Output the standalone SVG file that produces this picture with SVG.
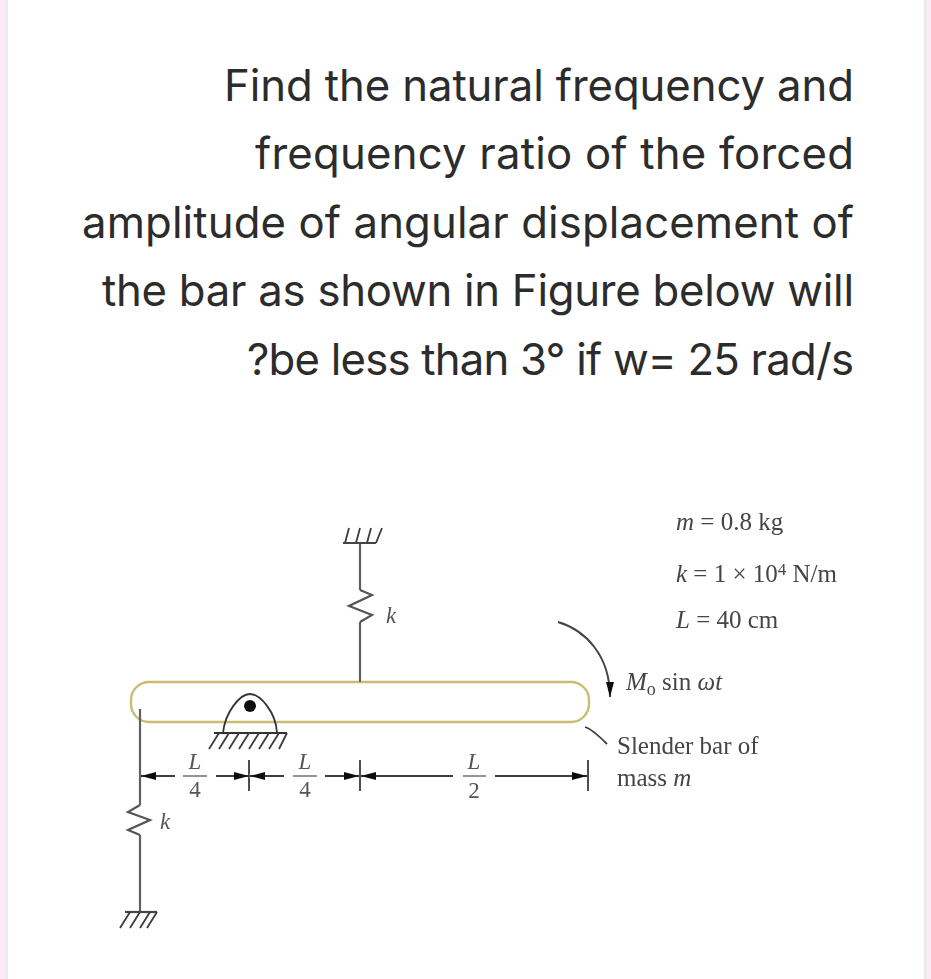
<svg xmlns="http://www.w3.org/2000/svg" width="931" height="979" viewBox="0 0 931 979">
<style>
.h{font-family:"Inter","Liberation Sans",sans-serif;font-size:43.7px;fill:#2c2c2c;text-anchor:end}
.t{font-family:"Liberation Serif",serif;font-size:25px;fill:#444}
.i{font-style:italic}
.l{fill:none;stroke:#3c3c3c;stroke-width:1.8}
.g{fill:none;stroke:#5e5e5e;stroke-width:2.2}
.c{font-family:"Liberation Serif",serif;font-size:23px;fill:#555;text-anchor:middle}
.f{stroke:#888;stroke-width:1.8}
</style>
<defs>
<marker id="a" markerWidth="16" markerHeight="10" refX="15" refY="5" orient="auto-start-reverse" markerUnits="userSpaceOnUse"><path d="M0 1 L15 5 L0 9Z" fill="#111"/></marker>
<filter id="s" x="-2%" y="-2%" width="104%" height="104%"><feGaussianBlur stdDeviation="0.45"/></filter>
</defs>
<rect width="931" height="979" fill="#fff"/>
<rect x="0" width="5" height="979" fill="#fbeaf3"/>
<rect x="5" width="3" height="979" fill="#eeeaec"/>
<rect x="924" width="3" height="979" fill="#eeeaec"/>
<rect x="927" width="4" height="979" fill="#f9edf3"/>
<g id="question">
<text class="h" x="854" y="101" textLength="630">Find the natural frequency and</text>
<text class="h" x="854" y="169" textLength="599">frequency ratio of the forced</text>
<text class="h" x="854" y="238" textLength="772">amplitude of angular displacement of</text>
<text class="h" x="854" y="306" textLength="752">the bar as shown in Figure below will</text>
<text class="h" x="854" y="375" textLength="607">?be less than 3° if w= 25 rad/s</text>
</g>
<g filter="url(#s)">
<g id="bar"><rect x="131" y="682" width="458" height="40" rx="18" fill="#fff" stroke="#c9bd72" stroke-width="2.4"/></g>
<g id="connectors">
<path class="g" d="M140 709V805"/>
<path class="g" d="M140 835V912"/>
<path class="g" d="M360 544V590"/>
<path class="g" d="M360 622V682"/>
<path class="l" marker-start="url(#a)" d="M141 776H175"/>
<path class="l" marker-end="url(#a)" d="M216 776H249"/>
<path class="l" marker-start="url(#a)" d="M250 776H284"/>
<path class="l" marker-end="url(#a)" d="M325 776H359"/>
<path class="l" marker-start="url(#a)" d="M361 776H453"/>
<path class="l" marker-end="url(#a)" d="M495 776H587"/>
<path class="l" d="M249 760V791M360 760V791M588 760V791"/>
<path d="M558 622C585 630 610 655 610 697" fill="none" stroke="#444" stroke-width="2" marker-end="url(#a)"/>
<path class="l" d="M585 727C592 729 600 737 607 744"/>
</g>
<g id="pivot">
<path d="M223 733C225 712 240 694 250 694C260 694 276 712 277 733" fill="none" stroke="#333" stroke-width="1.8"/>
<circle cx="250" cy="706" r="6" fill="#111"/>
<path d="M214 733H287" stroke="#333" stroke-width="2.2"/>
<path class="l" d="M219 733L209 749M229 733L219 749M239 733L229 749M249 733L239 749M259 733L249 749M269 733L259 749M279 733L269 749M287 733L279 749"/>
</g>
<g id="spring-left">
<path d="M140 805L128 812L150 820L128 830L140 835" fill="none" stroke="#555" stroke-width="2.2"/>
<text class="c i" x="165" y="829" font-size="24">k</text>
<path d="M125 912H157" stroke="#444" stroke-width="2.2"/>
<path class="l" d="M130 912L120 928M140 912L130 928M150 912L140 928M157 912L147 928"/>
</g>
<g id="spring-top">
<path d="M360 590L372 595L349 606L372 615L360 622" fill="none" stroke="#555" stroke-width="2.2"/>
<text class="c i" x="391" y="623">k</text>
<path d="M343 543H376" stroke="#444" stroke-width="2.2"/>
<path class="l" d="M345 543L349 528M356 543L360 528M367 543L371 528M376 543L382 528"/>
</g>
<g id="dim-labels">
<text class="c i" x="195" y="769">L</text><path class="f" d="M183 776H207"/><text class="c" x="195" y="797">4</text>
<text class="c i" x="305" y="769">L</text><path class="f" d="M293 776H317"/><text class="c" x="305" y="797">4</text>
<text class="c i" x="474" y="769">L</text><path class="f" d="M463 776H486"/><text class="c" x="474" y="798">2</text>
</g>
<g id="labels">
<text class="t" x="676" y="530"><tspan class="i">m</tspan> = 0.8 kg</text>
<text class="t" x="676" y="582"><tspan class="i">k</tspan> = 1 × 10<tspan font-size="17" dy="-7">4</tspan><tspan dy="7"> N/m</tspan></text>
<text class="t" x="676" y="628"><tspan class="i">L</tspan> = 40 cm</text>
<text class="t" x="626" y="690"><tspan class="i">M</tspan><tspan font-size="18" dy="5">o</tspan><tspan dy="-5"> sin </tspan><tspan class="i">ωt</tspan></text>
<text class="t" x="617" y="754">Slender bar of</text>
<text class="t" x="617" y="786">mass <tspan class="i">m</tspan></text>
</g>
</g>
</svg>
